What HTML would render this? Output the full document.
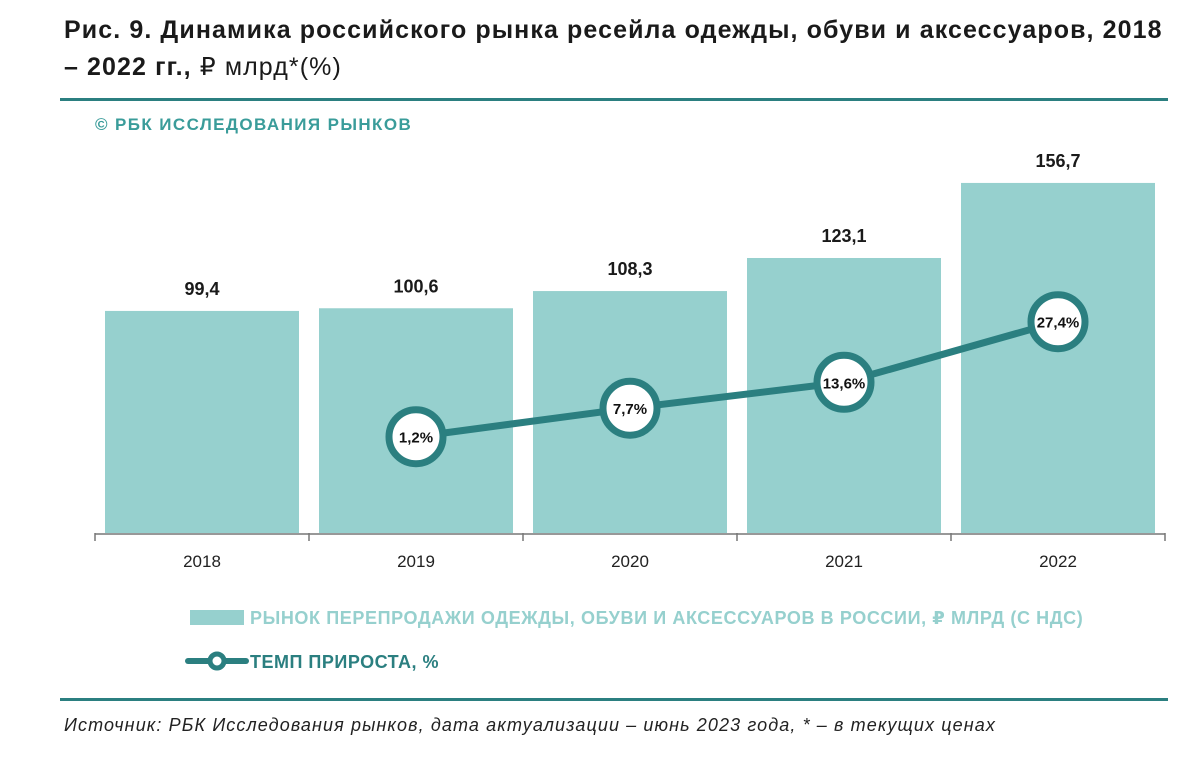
<!DOCTYPE html>
<html><head><meta charset="utf-8"><style>
body{margin:0;width:1200px;height:760px;background:#fff;font-family:"Liberation Sans","DejaVu Sans",sans-serif;overflow:hidden;position:relative}
.t{position:absolute;left:64px;top:12px;font-size:25px;font-weight:bold;color:#1a1a1a;line-height:37px;width:1130px;white-space:nowrap;letter-spacing:1.1px}
.hr{position:absolute;left:60px;width:1108px;height:3px;background:#2b7f80}
</style></head><body>
<div class="t">Рис. 9. Динамика российского рынка ресейла одежды, обуви и аксессуаров, 2018<br>– 2022 гг., <span style="font-weight:normal">₽ млрд*(%)</span></div>
<div class="hr" style="top:98px"></div>
<div class="hr" style="top:698px"></div>
<div style="position:absolute;left:95px;top:115px;font-size:17px;font-weight:bold;color:#3a9c9a;letter-spacing:1.4px">© РБК ИССЛЕДОВАНИЯ РЫНКОВ</div>
<div style="position:absolute;left:64px;top:715px;font-size:18px;font-style:italic;color:#222;letter-spacing:1.1px;white-space:nowrap">Источник: РБК Исследования рынков, дата актуализации – июнь 2023 года, * – в текущих ценах</div>
<svg id="c" width="1200" height="760" style="position:absolute;left:0;top:0"></svg>
<script>
const years=["2018","2019","2020","2021","2022"];
const market=[99.4,100.6,108.3,123.1,156.7];
const marketLabels=["99,4","100,6","108,3","123,1","156,7"];
const growth=[null,1.2,7.7,13.6,27.4];
const growthLabels=["","1,2%","7,7%","13,6%","27,4%"];
const svg=document.getElementById('c');const NS='http://www.w3.org/2000/svg';
function mk(t,a,p){const e=document.createElementNS(NS,t);for(const k in a)e.setAttribute(k,a[k]);(p||svg).appendChild(e);return e;}
const x0=95,band=214,base=533;
const yB=v=>base-v*2.234;
const yG=v=>442-v*4.39;
const xc=i=>x0+band*i+band/2;
years.forEach((y,i)=>{
 const r=mk('rect',{x:xc(i)-97,y:yB(market[i]),width:194,height:base-yB(market[i]),fill:'#96d0ce'});
 
 
 const t=mk('text',{x:xc(i),y:yB(market[i])-16,'text-anchor':'middle','font-size':18,'font-weight':'bold',fill:'#1a1a1a'});t.textContent=marketLabels[i];
 
 
 const l=mk('text',{x:xc(i),y:567,'text-anchor':'middle','font-size':17,fill:'#222'});l.textContent=y;
 
 
});
const ax=mk('line',{x1:x0,x2:x0+band*5,y1:base+1,y2:base+1,stroke:'#777','stroke-width':1.5});


for(let i=0;i<=5;i++){const tk=mk('line',{x1:x0+band*i,x2:x0+band*i,y1:base,y2:base+8,stroke:'#777','stroke-width':1.5});
 
 }
let pts=[];growth.forEach((g,i)=>{if(g!==null)pts.push(xc(i)+','+yG(g));});
const pl=mk('polyline',{points:pts.join(' '),fill:'none',stroke:'#2b7f80','stroke-width':7});


growth.forEach((g,i)=>{if(g===null)return;
 const c=mk('circle',{cx:xc(i),cy:yG(g),r:27,fill:'#fff',stroke:'#2b7f80','stroke-width':7});
 
 
 const t=mk('text',{x:xc(i),y:yG(g)+6,'text-anchor':'middle','font-size':15,'font-weight':'bold',fill:'#111'});t.textContent=growthLabels[i];
 
 
});
const g1=mk('g',{});
mk('rect',{x:190,y:610,width:54,height:15,fill:'#96d0ce'},g1);
const lt=mk('text',{x:250,y:624,'font-size':18,'font-weight':'bold',fill:'#96d0ce','letter-spacing':0.6},g1);lt.textContent='РЫНОК ПЕРЕПРОДАЖИ ОДЕЖДЫ, ОБУВИ И АКСЕССУАРОВ В РОССИИ, ₽ МЛРД (С НДС)';
const g2=mk('g',{});
mk('line',{x1:188,x2:246,y1:661,y2:661,stroke:'#2b7f80','stroke-width':6,'stroke-linecap':'round'},g2);
mk('circle',{cx:217,cy:661,r:7,fill:'#fff',stroke:'#2b7f80','stroke-width':5},g2);
const lt2=mk('text',{x:250,y:668,'font-size':18,'font-weight':'bold',fill:'#2b7f80','letter-spacing':0.5},g2);lt2.textContent='ТЕМП ПРИРОСТА, %';
</script>
</body></html>
